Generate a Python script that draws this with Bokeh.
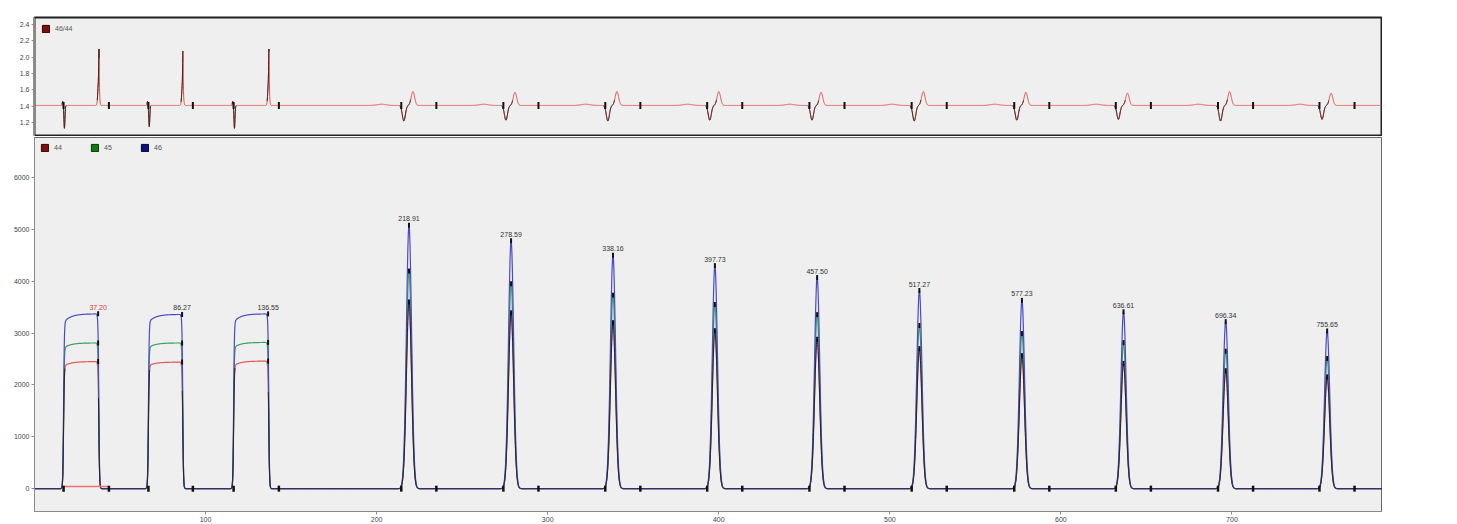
import numpy as np
from bokeh.plotting import figure
from bokeh.layouts import column
from bokeh.models import (ColumnDataSource, Range1d, FixedTicker, Legend, LegendItem,
                          NumeralTickFormatter)
from bokeh.embed import file_html
from bokeh.resources import INLINE
from bokeh.core.properties import value

# ---------------- data ----------------
# reference-gas square peaks
ref_start = [17.0, 66.6, 116.4]
ref_apex = [37.20, 86.27, 136.55]
ref_labels = ["37.20", "86.27", "136.55"]
ref_m44_lo = [2360, 2370, 2370]
ref_m44_hi = [2450, 2440, 2460]
ref_m45_lo = [2710, 2720, 2720]
ref_m45_hi = [2810, 2810, 2820]
ref_m46_lo = [3200, 3210, 3210]
ref_m46_hi = [3370, 3360, 3370]
ref_ratio_dip = [1.13, 1.15, 1.13]
ref_ratio_shoulder = [1.72, 1.70, 1.72]
ref_ratio_spike = [2.13, 2.12, 2.14]

# sample peaks
peak_apex = [218.91, 278.59, 338.16, 397.73, 457.50, 517.27, 577.23, 636.61, 696.34, 755.65]
peak_labels = ["218.91", "278.59", "338.16", "397.73", "457.50", "517.27",
               "577.23", "636.61", "696.34", "755.65"]
peak_m44 = [3600, 3390, 3200, 3045, 2880, 2700, 2565, 2415, 2275, 2155]
peak_m45 = [4195, 3950, 3730, 3550, 3355, 3145, 2990, 2815, 2650, 2510]
peak_m46 = [5080, 4780, 4500, 4300, 4070, 3820, 3630, 3410, 3220, 3040]
peak_ratio_dip = [1.22, 1.23, 1.22, 1.23, 1.23, 1.22, 1.23, 1.24, 1.22, 1.24]
peak_ratio_bump = [1.58, 1.57, 1.58, 1.58, 1.57, 1.58, 1.57, 1.56, 1.58, 1.56]
ratio_base = 1.41

series_names = ["44", "45", "46"]
ratio_name = "46/44"
x_ticks = [100, 200, 300, 400, 500, 600, 700]
y_ticks_main = [0, 1000, 2000, 3000, 4000, 5000, 6000]
y_ticks_ratio = [1.2, 1.4, 1.6, 1.8, 2.0, 2.2, 2.4]

# ---------------- build traces from the peak table ----------------
x = np.round(np.arange(0, 788.05, 0.1), 2)


def gauss(c, s):
    return np.exp(-0.5 * ((x - c) / s) ** 2)


def plateau(s, e, lo, hi):
    up = 1 / (1 + np.exp(-(x - s) / 0.22))
    down = 1 / (1 + np.exp((x - e - 0.4) / 0.22))
    level = hi - (hi - lo) * np.exp(-np.clip(x - s, 0, None) / 4.0)
    return level * up * down


m44 = np.zeros_like(x)
m45 = np.zeros_like(x)
m46 = np.zeros_like(x)
for i in range(3):
    m44 += plateau(ref_start[i], ref_apex[i], ref_m44_lo[i], ref_m44_hi[i])
    m45 += plateau(ref_start[i], ref_apex[i], ref_m45_lo[i], ref_m45_hi[i])
    m46 += plateau(ref_start[i], ref_apex[i], ref_m46_lo[i], ref_m46_hi[i])
for i, c in enumerate(peak_apex):
    m44 += peak_m44[i] * gauss(c, 1.5)
    m45 += peak_m45[i] * gauss(c, 1.5)
    m46 += peak_m46[i] * gauss(c, 1.5)

m44_dark = m44.copy()
for i in range(3):
    m44_dark[(x > ref_start[i] + 0.8) & (x < ref_apex[i] + 0.1)] = np.nan

ratio = np.full_like(x, ratio_base)
dark_mask = np.zeros_like(x, dtype=bool)
for i in range(3):
    s, e = ref_start[i], ref_apex[i]
    ratio += 0.05 * gauss(s - 0.5, 0.25)
    ratio += (ref_ratio_dip[i] - ratio_base) * gauss(s + 0.5, 0.3)
    ratio += (ref_ratio_shoulder[i] - ratio_base) * gauss(e + 0.3, 0.45)
    ratio += (ref_ratio_spike[i] - ref_ratio_shoulder[i]) * gauss(e + 0.5, 0.15)
    dark_mask |= (x > s - 1.0) & (x < s + 1.5)
    dark_mask |= (x > e - 0.6) & (x < e + 0.6)
for i, c in enumerate(peak_apex):
    ratio += 0.015 * gauss(c - 16, 2.5)
    ratio += (peak_ratio_dip[i] - ratio_base) * gauss(c - 3.0, 0.9)
    ratio += (peak_ratio_bump[i] - ratio_base) * gauss(c + 2.3, 1.0)
    dark_mask |= (x > c - 5.5) & (x < c + 1.0)
ratio_dark = np.where(dark_mask, ratio, np.nan)

src = ColumnDataSource(dict(x=x, m44=m44, m45=m45, m46=m46, m44d=m44_dark,
                            r=ratio, rd=ratio_dark))

start_marks = list(ref_start) + [c - 4.5 for c in peak_apex]
end_marks = [e + 6.3 for e in ref_apex] + [c + 16.0 for c in peak_apex]
base_marks = start_marks + end_marks
all_apex = list(ref_apex) + list(peak_apex)
apex_46 = list(ref_m46_hi) + list(peak_m46)
apex_45 = list(ref_m45_hi) + list(peak_m45)
apex_44 = list(ref_m44_hi) + list(peak_m44)
label_txt = list(ref_labels) + list(peak_labels)
label_col = ["#e03c3c"] + ["#333333"] * (len(label_txt) - 1)

# ---------------- figures ----------------
FONT = "Liberation Sans"
xr = Range1d(0, 788)
W = 1382
LEFT = 34

c44, c45, c46 = "#e05858", "#3aa066", "#4a4ac8"
lg44, lg45, lg46 = "#7a1010", "#107a10", "#10107a"
NAN = [float("nan")]


def style_axis(ax):
    ax.major_label_text_font_size = "7px"
    ax.major_label_text_font = FONT
    ax.major_label_text_color = "#444444"
    ax.axis_line_color = "#8a8a8a"
    ax.major_tick_line_color = "#8a8a8a"
    ax.major_tick_out = 3
    ax.major_tick_in = 0
    ax.minor_tick_line_color = None
    ax.major_label_standoff = 2


def legend_box(p, color, edge):
    return p.quad(left=NAN, right=NAN, top=NAN, bottom=NAN, fill_color=color, line_color=edge)


# top: ratio panel
pt = figure(width=W, height=136, x_range=xr, y_range=Range1d(1.03, 2.486),
            output_backend="svg", toolbar_location=None, x_axis_location=None,
            min_border_left=LEFT, min_border_right=0, min_border_top=17, min_border_bottom=0)
pt.background_fill_color = "#efefef"
pt.border_fill_color = "white"
pt.outline_line_color = "#222222"
pt.outline_line_width = 2
pt.xgrid.visible = False
pt.ygrid.visible = False
style_axis(pt.yaxis[0])
pt.yaxis[0].ticker = FixedTicker(ticks=y_ticks_ratio)
pt.yaxis[0].formatter = NumeralTickFormatter(format="0.0")

pt.line("x", "r", source=src, line_color="#dc5050", line_width=1)
pt.line("x", "rd", source=src, line_color="#3a2a2a", line_width=1)
pt.scatter(base_marks, [ratio_base] * len(base_marks), marker="dash", angle=np.pi / 2,
           size=7, line_color="#111111", line_width=2)
qt = legend_box(pt, lg44, "#3a0000")
leg_t = Legend(items=[LegendItem(label=ratio_name, renderers=[qt])], location="top_left",
               orientation="horizontal", glyph_width=9, glyph_height=9, label_height=9,
               label_text_font_size="7px", label_text_font=FONT, label_text_color="#555555",
               label_standoff=5, padding=0, margin=7, spacing=6,
               background_fill_alpha=0, border_line_alpha=0)
pt.add_layout(leg_t)

# main panel
pm = figure(width=W, height=388, x_range=xr, y_range=Range1d(-440, 6770),
            output_backend="svg", toolbar_location=None,
            min_border_left=LEFT, min_border_right=0, min_border_top=1, min_border_bottom=0)
pm.background_fill_color = "#efefef"
pm.border_fill_color = "white"
pm.outline_line_color = "#666666"
pm.outline_line_width = 1
pm.xgrid.visible = False
pm.ygrid.visible = False
style_axis(pm.yaxis[0])
pm.yaxis[0].ticker = FixedTicker(ticks=y_ticks_main)
style_axis(pm.xaxis[0])
pm.xaxis[0].ticker = FixedTicker(ticks=x_ticks)

pm.line("x", "m44", source=src, line_color=c44, line_width=1.2)
pm.line("x", "m45", source=src, line_color=c45, line_width=1.2)
pm.line("x", "m46", source=src, line_color=c46, line_width=1.2)
pm.line("x", "m44d", source=src, line_color="#262626", line_width=1)
pm.line([ref_start[0], ref_apex[0] + 6.3], [40, 40], line_color="#f07070", line_width=1.5)

pm.scatter(base_marks, [0] * len(base_marks), marker="dash", angle=np.pi / 2,
           size=6, line_color="#111111", line_width=2.5)
pm.scatter(all_apex * 3, apex_46 + apex_45 + apex_44, marker="dash", angle=np.pi / 2,
           size=5, line_color="#111111", line_width=2)

lab_src = ColumnDataSource(dict(x=all_apex, y=apex_46, t=label_txt, c=label_col))
pm.text("x", "y", text="t", source=lab_src, text_color="c", text_font=value(FONT),
        text_font_size="7px", text_align="center", text_baseline="bottom", y_offset=-4)

q44 = legend_box(pm, lg44, "#3a0000")
q45 = legend_box(pm, lg45, "#003a00")
q46 = legend_box(pm, lg46, "#00003a")
leg_m = Legend(items=[LegendItem(label=series_names[0], renderers=[q44]),
                      LegendItem(label=series_names[1], renderers=[q45]),
                      LegendItem(label=series_names[2], renderers=[q46])],
               location="top_left", orientation="horizontal",
               glyph_width=9, glyph_height=9, label_height=9, label_width=28,
               label_text_font_size="7px", label_text_font=FONT, label_text_color="#555555",
               label_standoff=5, padding=0, margin=6, spacing=8,
               background_fill_alpha=0, border_line_alpha=0)
pm.add_layout(leg_m)

layout = column(pt, pm, spacing=0)
open("out.html", "w").write(file_html(layout, INLINE))
